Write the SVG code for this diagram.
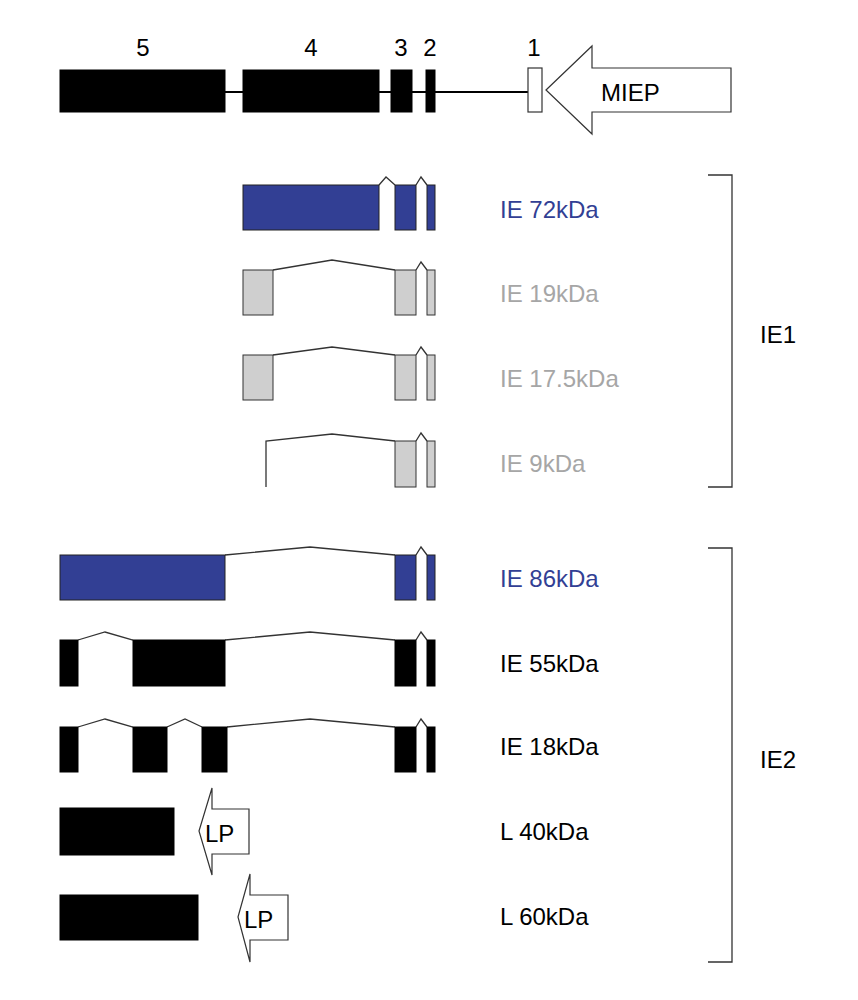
<svg xmlns="http://www.w3.org/2000/svg" width="858" height="1000" viewBox="0 0 858 1000">
<style>
text{font-family:"Liberation Sans",Arial,sans-serif;font-size:24px}
.k{fill:#000;stroke:#000;stroke-width:1}
.b{fill:#323f94;stroke:#222;stroke-width:1}
.g{fill:#cfcfcf;stroke:#333;stroke-width:1}
.w{fill:#fff;stroke:#333;stroke-width:1.2}
.l{fill:none;stroke:#333;stroke-width:1.3}
.bl{fill:#323f94}.gr{fill:#a6a6a6}
</style>
<rect width="858" height="1000" fill="#fff"/>
<g id="gene">
<line x1="225" y1="92" x2="528" y2="92" stroke="#000" stroke-width="2"/>
<rect class="k" x="60" y="70" width="165" height="42"/>
<rect class="k" x="243" y="70" width="136" height="42"/>
<rect class="k" x="391" y="70" width="21" height="42"/>
<rect class="k" x="426" y="70" width="9" height="42"/>
<rect class="w" x="528" y="68" width="14" height="44"/>
<polygon class="w" points="546,90 592,46 592,68 731,68 731,112 592,112 592,134"/>
<text x="601" y="101">MIEP</text>
<text x="143" y="56" text-anchor="middle">5</text>
<text x="311" y="56" text-anchor="middle">4</text>
<text x="401" y="56" text-anchor="middle">3</text>
<text x="430" y="56" text-anchor="middle">2</text>
<text x="534" y="56" text-anchor="middle">1</text>
</g>
<g id="ie72">
<polyline class="l" points="379,185 386,177 395,185"/><polyline class="l" points="416,185 421,177 427,185"/>
<rect class="b" x="243" y="185" width="136" height="45"/><rect class="b" x="395" y="185" width="21" height="45"/><rect class="b" x="427" y="185" width="8" height="45"/>
<text class="bl" x="500" y="218">IE 72kDa</text>
</g>
<g id="ie19">
<polyline class="l" points="273,270 332,260 395,270"/><polyline class="l" points="416,270 421,262 427,270"/>
<rect class="g" x="243" y="270" width="30" height="45"/><rect class="g" x="395" y="270" width="21" height="45"/><rect class="g" x="427" y="270" width="8" height="45"/>
<text class="gr" x="500" y="302">IE 19kDa</text>
</g>
<g id="ie175">
<polyline class="l" points="273,355 332,347 395,355"/><polyline class="l" points="416,355 421,347 427,355"/>
<rect class="g" x="243" y="355" width="30" height="45"/><rect class="g" x="395" y="355" width="21" height="45"/><rect class="g" x="427" y="355" width="8" height="45"/>
<text class="gr" x="500" y="387">IE 17.5kDa</text>
</g>
<g id="ie9">
<polyline class="l" points="266,487 266,441 332,434 395,441"/><polyline class="l" points="416,441 421,433 427,441"/>
<rect class="g" x="395" y="441" width="21" height="46"/><rect class="g" x="427" y="441" width="8" height="46"/>
<text class="gr" x="500" y="472">IE 9kDa</text>
</g>
<g id="ie1"><polyline class="l" points="708,175 732,175 732,487 708,487"/><text x="760" y="343">IE1</text></g>
<g id="ie86">
<polyline class="l" points="225,555 310,547 395,555"/><polyline class="l" points="416,555 421,547 427,555"/>
<rect class="b" x="60" y="555" width="165" height="45"/><rect class="b" x="395" y="555" width="21" height="45"/><rect class="b" x="427" y="555" width="8" height="45"/>
<text class="bl" x="500" y="587">IE 86kDa</text>
</g>
<g id="ie55">
<polyline class="l" points="78,640 105,632 133,640"/><polyline class="l" points="225,640 310,632 395,640"/><polyline class="l" points="416,640 421,632 427,640"/>
<rect class="k" x="60" y="640" width="18" height="46"/><rect class="k" x="133" y="640" width="92" height="46"/><rect class="k" x="395" y="640" width="21" height="46"/><rect class="k" x="427" y="640" width="8" height="46"/>
<text x="500" y="672">IE 55kDa</text>
</g>
<g id="ie18">
<polyline class="l" points="78,727 105,719 133,727"/><polyline class="l" points="167,727 185,719 202,727"/><polyline class="l" points="227,727 310,719 395,727"/><polyline class="l" points="416,727 421,719 427,727"/>
<rect class="k" x="60" y="727" width="18" height="45"/><rect class="k" x="133" y="727" width="34" height="45"/><rect class="k" x="202" y="727" width="25" height="45"/><rect class="k" x="395" y="727" width="21" height="45"/><rect class="k" x="427" y="727" width="8" height="45"/>
<text x="500" y="755">IE 18kDa</text>
</g>
<g id="l40">
<rect class="k" x="60" y="808" width="114" height="47"/>
<polygon class="w" points="199,831 212,788 212,809 249,809 249,854 212,854 212,875"/>
<text x="205" y="842" font-size="22">LP</text>
<text x="500" y="840">L 40kDa</text>
</g>
<g id="l60">
<rect class="k" x="60" y="895" width="138" height="45"/>
<polygon class="w" points="238,917 250,874 250,895 288,895 288,940 250,940 250,962"/>
<text x="244" y="928" font-size="22">LP</text>
<text x="500" y="925">L 60kDa</text>
</g>
<g id="ie2"><polyline class="l" points="708,548 732,548 732,962 708,962"/><text x="760" y="768">IE2</text></g>
</svg>
